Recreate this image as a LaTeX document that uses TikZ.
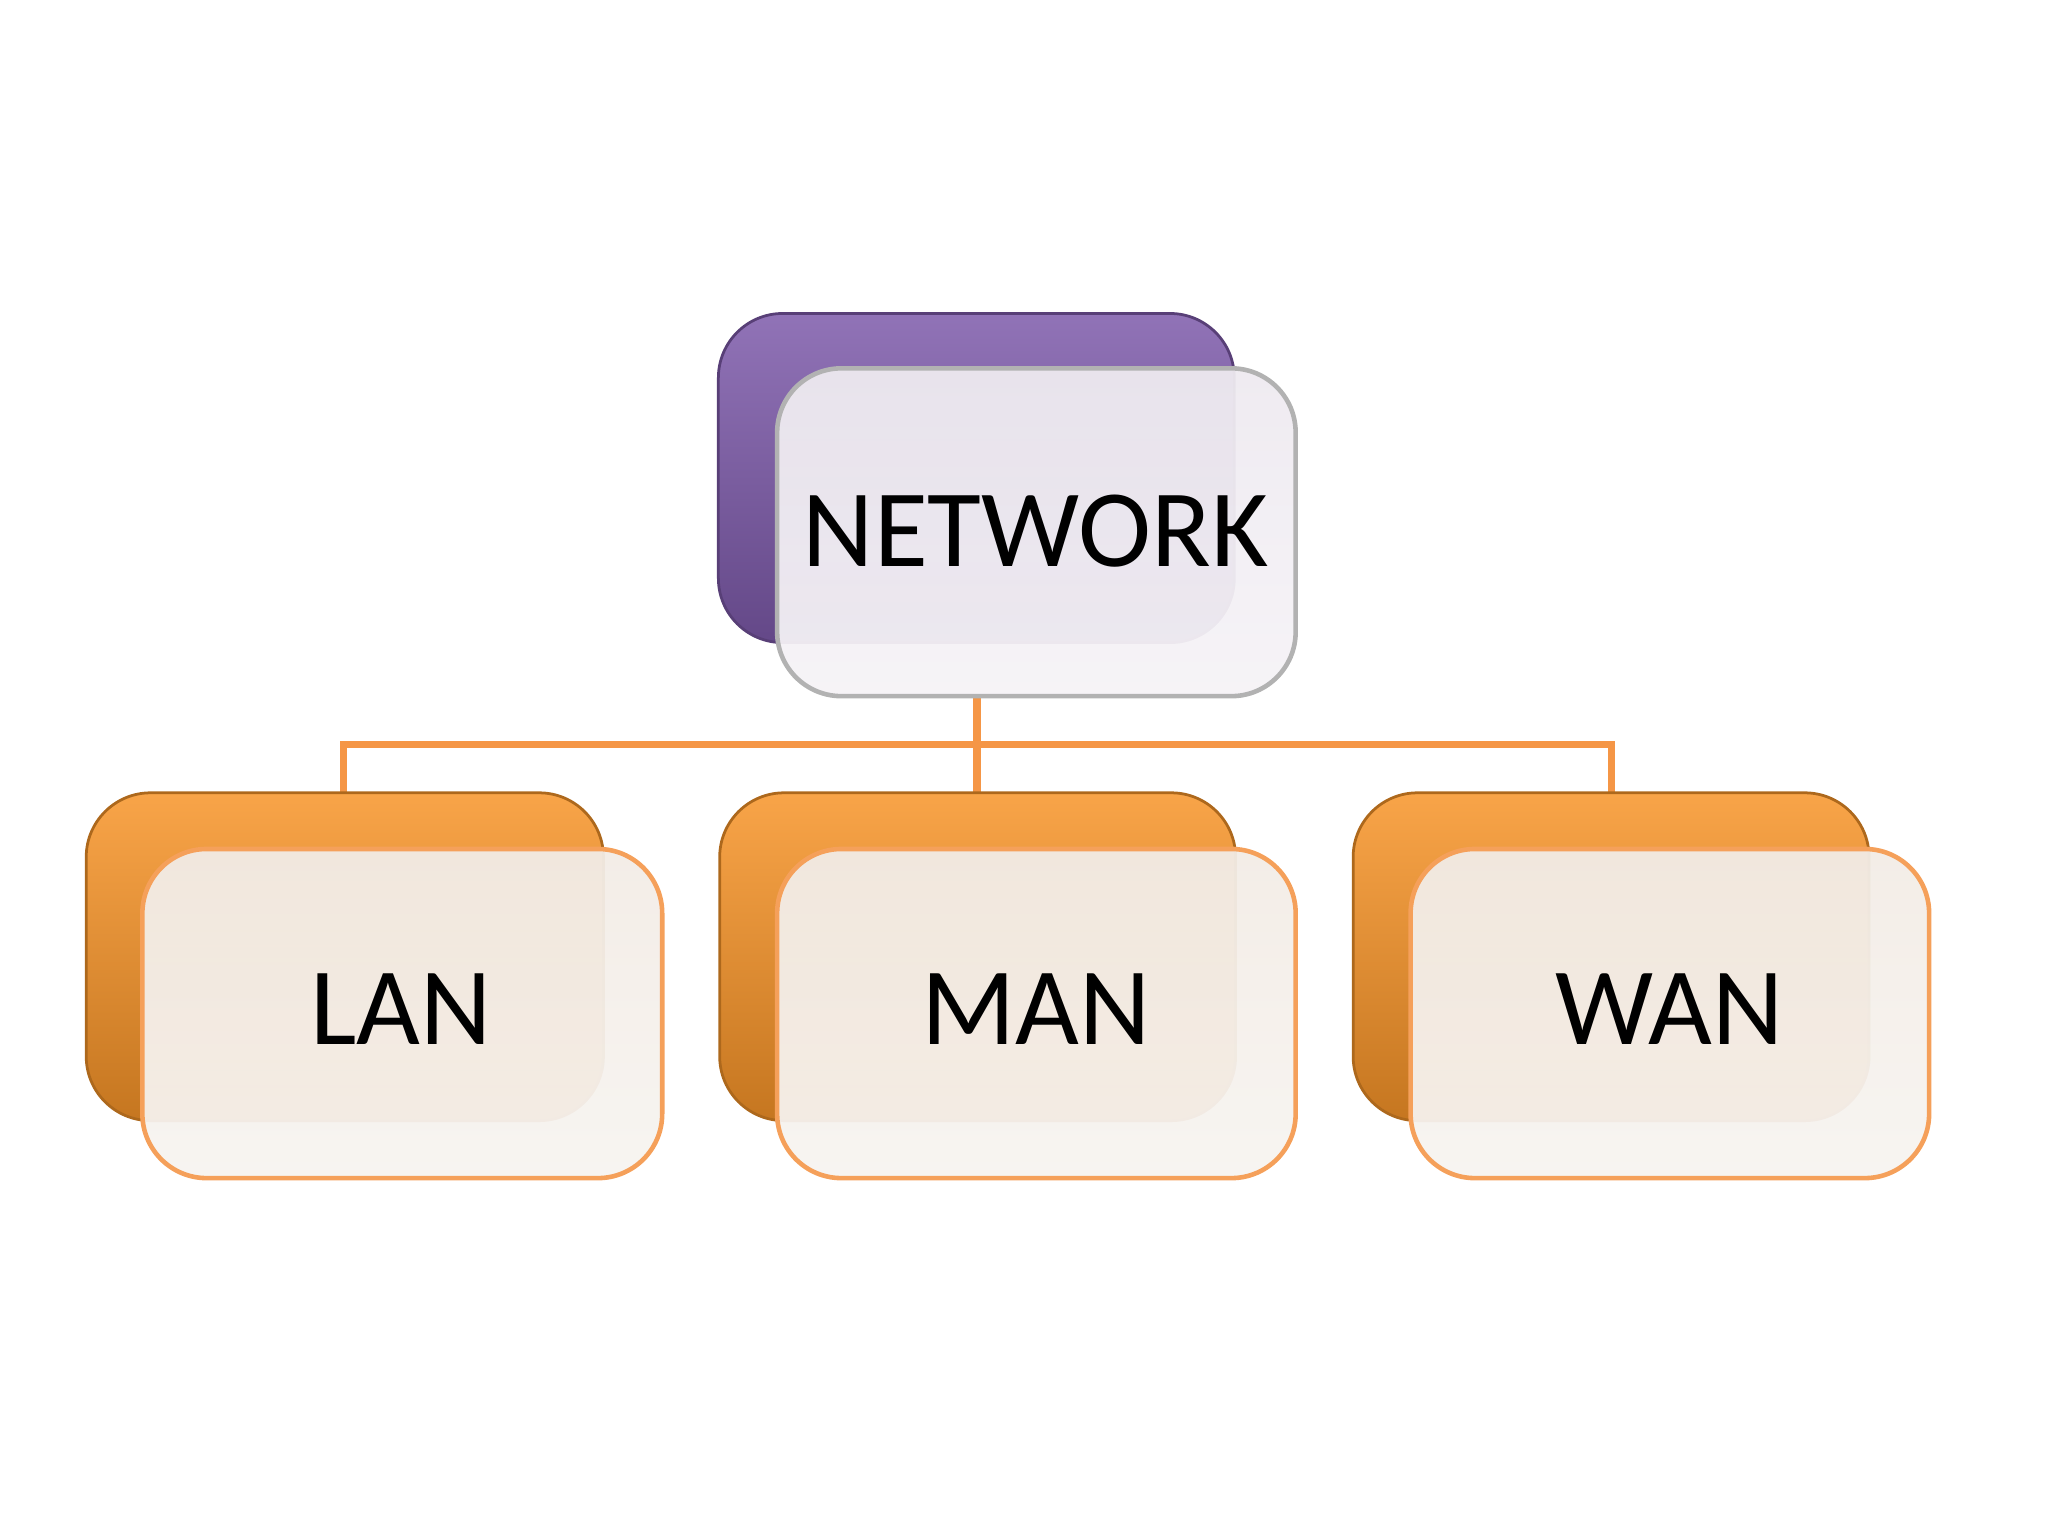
\documentclass[tikz,border=0pt]{standalone}
\usepackage{fontspec}
\setmainfont{Carlito}
\definecolor{purp}{RGB}{125,90,170}
\definecolor{oran}{RGB}{247,148,40}
\definecolor{pane}{RGB}{238,234,240}
\definecolor{paneo}{RGB}{242,236,230}
\definecolor{edgeo}{RGB}{245,160,90}
\definecolor{connc}{RGB}{245,150,70}
\begin{document}
\begin{tikzpicture}[x=0.01cm,y=-0.01cm,
 back/.style={rounded corners=14pt,top color=#1!85!white,bottom color=#1!80!black,draw=#1!70!black,line width=0.6pt},
 front/.style 2 args={rounded corners=14pt,top color=#1,bottom color=#1!60!white,draw=#2,line width=1pt},
 lbl/.style={font=\fontsize{24pt}{28pt}\selectfont,text=black},
 conn/.style={draw=connc,line width=1.6pt}]
\useasboundingbox (0,0) rectangle (1568,1176);
% connectors
\coordinate (top) at (748,533);
\coordinate (mid) at (748,570);
\coordinate (l) at (263,570);
\coordinate (r) at (1234,570);
\coordinate (lb) at (263,607);
\coordinate (mb) at (748,607);
\coordinate (rb) at (1234,607);
\draw[conn] (top) -- (mb);
\draw[conn] (lb) -- (l) -- (r) -- (rb);
% NETWORK
\path[back=purp] (550,240) rectangle (945,492);
\path[front={pane}{gray!60}, fill opacity=0.95] (595,282) rectangle (992,533);
\node[lbl] (net) at (793,407) {NETWORK};
% LAN
\path[back=oran] (66,607) rectangle (462,858);
\path[front={paneo}{edgeo}, fill opacity=0.95] (109,650) rectangle (507,902);
\node[lbl] (lan) at (307,773) {LAN};
% MAN
\path[back=oran] (551,607) rectangle (946,858);
\path[front={paneo}{edgeo}, fill opacity=0.95] (595,650) rectangle (992,902);
\node[lbl] (man) at (793,773) {MAN};
% WAN
\path[back=oran] (1036,607) rectangle (1431,858);
\path[front={paneo}{edgeo}, fill opacity=0.95] (1080,650) rectangle (1477,902);
\node[lbl] (wan) at (1278,773) {WAN};
\end{tikzpicture}
\end{document}
